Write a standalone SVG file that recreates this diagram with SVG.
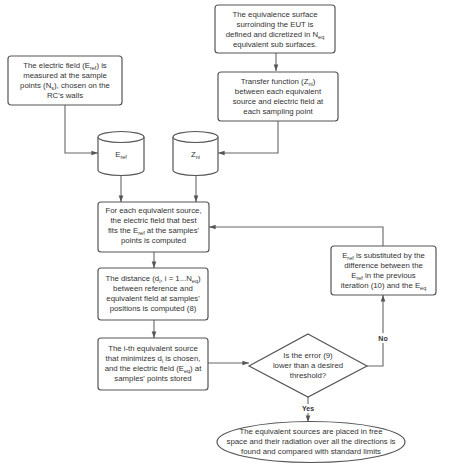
<svg xmlns="http://www.w3.org/2000/svg" width="474" height="474" viewBox="0 0 474 474">
<style>
.box{fill:#fff;stroke:#555;stroke-width:1.2}
.ln{fill:none;stroke:#666;stroke-width:1.1}
text{font-family:"Liberation Sans",Arial,sans-serif;font-size:7.8px;fill:#333;text-anchor:middle}
.sub{font-size:5.5px}
.lbl{font-weight:bold;font-size:7px}
</style>
<defs>
<marker id="ah" viewBox="0 0 10 10" refX="10" refY="5" markerWidth="6" markerHeight="6" orient="auto">
<path d="M0,1.5 L10,5 L0,8.5 z" fill="#555"/>
</marker>
</defs>
<rect width="474" height="474" fill="#fff"/>
<g id="connectors">
<path class="ln" d="M276,53 V71" marker-end="url(#ah)"/>
<path class="ln" d="M278,121 V153 H218" marker-end="url(#ah)"/>
<path class="ln" d="M65,105 V153 H98" marker-end="url(#ah)"/>
<path class="ln" d="M121,176 V202" marker-end="url(#ah)"/>
<path class="ln" d="M196,176 V202" marker-end="url(#ah)"/>
<path class="ln" d="M154,252 V268" marker-end="url(#ah)"/>
<path class="ln" d="M154,320 V338" marker-end="url(#ah)"/>
<path class="ln" d="M208,363 H249" marker-end="url(#ah)"/>
<path class="ln" d="M367,366 H383 V295" marker-end="url(#ah)"/>
<path class="ln" d="M383,246 V227 H209" marker-end="url(#ah)"/>
<path class="ln" d="M308,396 V422" marker-end="url(#ah)"/>
<rect x="376" y="333" width="14" height="10" fill="#fff"/>
<text class="lbl" x="383" y="341">No</text>
<rect x="299" y="404" width="18" height="9" fill="#fff"/>
<text class="lbl" x="308" y="411">Yes</text>
</g>
<g id="n1">
<rect class="box" x="215" y="5" width="120" height="48" rx="3"/>
<text x="275" y="17">The  equivalence surface</text>
<text x="275" y="27">surroinding the EUT is</text>
<text x="275" y="37">defined and dicretized in  N<tspan class="sub" dy="2">eq</tspan></text>
<text x="275" y="47">equivalent sub surfaces.</text>
</g>
<g id="n2">
<rect class="box" x="8" y="56" width="114" height="49" rx="3"/>
<text x="65" y="68">The electric field (E<tspan class="sub" dy="2">ref</tspan><tspan dy="-2">) is</tspan></text>
<text x="65" y="78">measured at the sample</text>
<text x="65" y="88">points (N<tspan class="sub" dy="2">s</tspan><tspan dy="-2">), chosen on the</tspan></text>
<text x="65" y="98">RC's walls</text>
</g>
<g id="n3">
<rect class="box" x="218" y="72" width="120" height="49" rx="3"/>
<text x="278" y="84">Transfer function (Z<tspan class="sub" dy="2">ni</tspan><tspan dy="-2">)</tspan></text>
<text x="278" y="94">between each equivalent</text>
<text x="278" y="104">source and electric field at</text>
<text x="278" y="114">each sampling point</text>
</g>
<g id="n4">
<path class="box" d="M98,137 V170 A23,5.5 0 0 0 144,170 V137"/>
<ellipse class="box" cx="121" cy="137" rx="23" ry="5.5"/>
<text x="121" y="157">E<tspan class="sub" dy="2">ref</tspan></text>
</g>
<g id="n5">
<path class="box" d="M173,137 V170 A22.5,5.5 0 0 0 218,170 V137"/>
<ellipse class="box" cx="195.5" cy="137" rx="22.5" ry="5.5"/>
<text x="195.5" y="157">Z<tspan class="sub" dy="2">ni</tspan></text>
</g>
<g id="n6">
<rect class="box" x="98" y="202" width="111" height="50" rx="3"/>
<text x="153.5" y="213">For each equivalent source,</text>
<text x="153.5" y="223">the electric field that best</text>
<text x="153.5" y="233">fits the E<tspan class="sub" dy="2">ref</tspan><tspan dy="-2"> at the samples'</tspan></text>
<text x="153.5" y="243">points is computed</text>
</g>
<g id="n7">
<rect class="box" x="98" y="268" width="110" height="52" rx="3"/>
<text x="153" y="281">The distance (d<tspan class="sub" dy="2">i</tspan><tspan dy="-2">, i = 1...N</tspan><tspan class="sub" dy="2">eq</tspan><tspan dy="-2">)</tspan></text>
<text x="153" y="291">between reference and</text>
<text x="153" y="301">equivalent field at samples'</text>
<text x="153" y="311">positions is computed (8)</text>
</g>
<g id="n8">
<rect class="box" x="98" y="338" width="110" height="52" rx="3"/>
<text x="153" y="351">The i-th equivalent source</text>
<text x="153" y="361">that minimizes d<tspan class="sub" dy="2">i</tspan><tspan dy="-2"> is chosen,</tspan></text>
<text x="153" y="371">and the electric field (E<tspan class="sub" dy="2">eq</tspan><tspan dy="-2">) at</tspan></text>
<text x="153" y="381">samples' points stored</text>
</g>
<g id="n9">
<path class="box" d="M308,334 L367,366 L308,397 L249,366 Z"/>
<text x="308" y="358">Is the error (9)</text>
<text x="308" y="368">lower than a desired</text>
<text x="308" y="378">threshold?</text>
</g>
<g id="n10">
<rect class="box" x="331" y="246" width="105" height="49" rx="3"/>
<text x="383.5" y="258">E<tspan class="sub" dy="2">ref</tspan><tspan dy="-2"> is substituted by the</tspan></text>
<text x="383.5" y="268">difference between the</text>
<text x="383.5" y="278">E<tspan class="sub" dy="2">ref</tspan><tspan dy="-2"> in the previous</tspan></text>
<text x="383.5" y="288">iteration (10) and the E<tspan class="sub" dy="2">eq</tspan></text>
</g>
<g id="n11">
<ellipse class="box" cx="311" cy="442" rx="94" ry="20.5"/>
<text x="311" y="433.5">The equivalent sources are placed in free</text>
<text x="311" y="443.5">space and their radiation over all the directions is</text>
<text x="311" y="453.5">found and compared with standard limits</text>
</g>
</svg>
